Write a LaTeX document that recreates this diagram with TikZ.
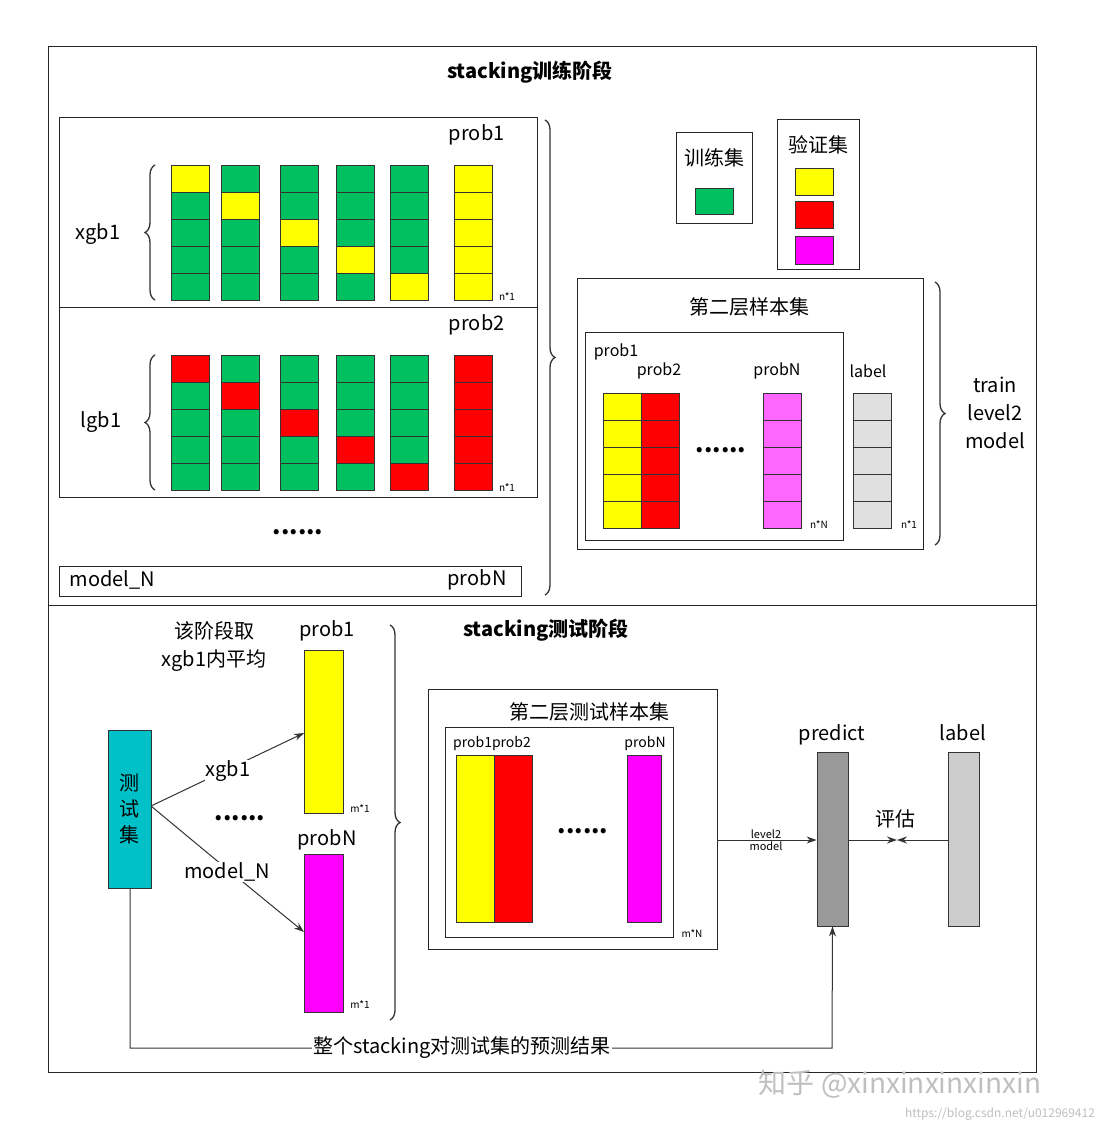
\documentclass[tikz,border=0pt]{standalone}
\usepackage{fontspec}
\setmainfont{Noto Sans CJK SC}
\usetikzlibrary{decorations.pathreplacing,arrows.meta}
\definecolor{gr}{HTML}{00C060}
\definecolor{ye}{HTML}{FFFF00}
\definecolor{rd}{HTML}{FF0000}
\definecolor{mg}{HTML}{FF00FF}
\definecolor{lm}{HTML}{FF66FF}
\definecolor{lg}{HTML}{E0E0E0}
\definecolor{cy}{HTML}{00C0C8}
\tikzset{
 box/.style={draw=black!85,line width=1pt},
 cell/.style={draw=black!80,line width=0.8pt},
 br/.style={decorate,decoration={brace,amplitude=10pt},line width=1.3pt,draw=black!80},
 t/.style={font=\fontsize{20}{22}\selectfont},
 s/.style={font=\fontsize{10}{11}\selectfont},
 dd/.style={font=\fontsize{24}{24}\selectfont\bfseries},
 arr/.style={-{Stealth[length=10pt,width=7pt]},line width=1pt,draw=black!80}
}
\newcommand{\colm}[5]{% x, ytop, nrows, fill, special row
 \foreach \r in {1,...,#3}{
  \pgfmathsetmacro{\yy}{#2+(\r-1)*27}
  \ifnum\r=#5 \def\ff{#4}\else\def\ff{gr}\fi
  \draw[cell,fill=\ff] (#1,\yy) rectangle ++(38,27);}}
\newcommand{\colf}[4]{% x, ytop, nrows, fill
 \foreach \r in {1,...,#3}{
  \pgfmathsetmacro{\yy}{#2+(\r-1)*27}
  \draw[cell,fill=#4] (#1,\yy) rectangle ++(38,27);}}
\begin{document}
\begin{tikzpicture}[x=1pt,y=-1pt]
\useasboundingbox (0,0) rectangle (1098,1134);
\fill[white] (0,0) rectangle (1098,1134);
\draw[box] (48,47) rectangle (1036,1072);
\draw[box] (48,605) -- (1036,605);
\node[t,font=\fontsize{20}{22}\selectfont\bfseries] (t1) at (530,72) {stacking训练阶段};
\draw[box] (59,118) rectangle (537,307);
\draw[box] (59,307) rectangle (537,497);
\draw[box] (59,566) rectangle (521,596);
\node[t,anchor=east] (p1) at (508,135) {prob1};
\node[t,anchor=east] (p2) at (508,325) {prob2};
\node[t,anchor=west] (mn) at (66,580) {model\_N};
\node[t,anchor=east] (pn) at (510,580) {probN};
\node[dd] (dots1) at (298,532) {......};
\foreach \x/\k in {171/1,221/2,280/3,336/4,390/5}{\colm{\x}{165}{5}{ye}{\k}\colm{\x}{355}{5}{rd}{\k}}
\colf{454}{165}{5}{ye}\colf{454}{355}{5}{rd}
\node[s] (n1) at (507,297) {n*1};
\node[s] (n2) at (507,488) {n*1};
\draw[br] (155,300) -- (155,165);
\draw[br] (155,490) -- (155,355);
\node[t] (xgb) at (98,234) {xgb1};
\node[t] (lgb) at (101,422) {lgb1};
\draw[br] (545,120) -- (545,595);
\draw[box] (676,133) rectangle (752,223);
\node[t] (trs) at (714,158) {训练集};
\draw[cell,fill=gr] (695,188) rectangle (733,214);
\draw[box] (777,120) rectangle (859,269);
\node[t] (vs) at (818,145) {验证集};
\draw[cell,fill=ye] (795,168) rectangle (833,195);
\draw[cell,fill=rd] (795,201) rectangle (833,228);
\draw[cell,fill=mg] (795,236) rectangle (833,264);
\draw[box] (577,278) rectangle (923,549);
\node[t] (l2) at (749,307) {第二层样本集};
\draw[box] (585,332) rectangle (843,540);
\node[font=\fontsize{16}{18}\selectfont] (q1) at (616,352) {prob1};
\node[font=\fontsize{16}{18}\selectfont] (q2) at (659,371) {prob2};
\node[font=\fontsize{16}{18}\selectfont] (qn) at (777,371) {probN};
\node[font=\fontsize{16}{18}\selectfont] (ql) at (868,371) {label};
\colf{603}{393}{5}{ye}\colf{641}{393}{5}{rd}\colf{763}{393}{5}{lm}\colf{853}{393}{5}{lg}
\node[dd] (dots2) at (721,450) {......};
\node[s] (nN) at (819,525) {n*N};
\node[s] (n3) at (909,525) {n*1};
\draw[br] (935,282) -- (935,545);
\node[t,align=center,font=\fontsize{20}{28}\selectfont] (tl) at (995,413) {train\\level2\\model};
\node[t,font=\fontsize{20}{22}\selectfont\bfseries] (t2) at (546,630) {stacking测试阶段};
\node[t,align=center,font=\fontsize{20}{28}\selectfont] (note) at (214,647) {该阶段取\\xgb1内平均};
\node[t] (tp1) at (327,631) {prob1};
\draw[cell,fill=ye] (304,650) rectangle (343,813);
\node[s] (m1) at (360,809) {m*1};
\node[t] (tpn) at (327,840) {probN};
\draw[cell,fill=mg] (304,854) rectangle (343,1012);
\node[s] (m2) at (360,1005) {m*1};
\draw[cell,fill=cy] (108,730) rectangle (151,888);
\node[t,align=center,font=\fontsize{20}{26}\selectfont] (ts) at (129.5,809) {测\\试\\集};
\coordinate (tsr) at (151,806);
\coordinate (mnst) at (210,855);
\coordinate (a1) at (304,733);
\coordinate (a2) at (304,932);
\draw[arr] (tsr) -- (a1);
\draw[line width=1pt,draw=black!80] (tsr) -- (mnst);
\draw[arr] (mnst) -- (a2);
\node[t,fill=white,inner sep=1pt] (lx) at (228,771) {xgb1};
\node[t,fill=white,inner sep=1pt] (lm) at (227,872) {model\_N};
\node[dd] (dots3) at (240,818) {......};
\draw[br] (390,625) -- (390,1020);
\draw[box] (428,689) rectangle (717,949);
\node[t] (l2t) at (589,712) {第二层测试样本集};
\draw[box] (445,727) rectangle (673,937);
\node[font=\fontsize{14}{16}\selectfont] (r12) at (492,744) {prob1prob2};
\node[font=\fontsize{14}{16}\selectfont] (rn) at (645,744) {probN};
\draw[cell,fill=ye] (456,755) rectangle (494,922);
\draw[cell,fill=rd] (494,755) rectangle (532,922);
\draw[cell,fill=mg] (627,755) rectangle (661,922);
\node[dd] (dots4) at (583,831) {......};
\node[s] (mN) at (692,934) {m*N};
\node[draw=black!80,line width=0.8pt,fill=black!40,minimum width=31pt,minimum height=174pt,inner sep=0] (pred) at (832.5,839) {};
\node[draw=black!80,line width=0.8pt,fill=black!20,minimum width=31pt,minimum height=174pt,inner sep=0] (lab) at (963.5,839) {};
\node[t] (predt) at (832,735) {predict};
\node[t] (labt) at (963,733) {label};
\coordinate (l2o) at (717,840);
\draw[arr] (l2o) -- (pred.west |- l2o);
\node[s,align=center,font=\fontsize{11}{12}\selectfont] (lvm) at (766,840) {level2\\model};
\coordinate (mid) at (897,840);
\draw[arr] (pred.east |- mid) -- (mid);
\draw[arr] (lab.west |- mid) -- (mid);
\node[t] (ev) at (895,819) {评估};
\coordinate (b0) at (130,888);
\coordinate (b1) at (130,1048);
\coordinate (b2) at (832,1048);
\draw[arr] (b0) -- (b1) -- (b2) -- (pred.south);
\node[t,fill=white,inner sep=1pt] (bt) at (462,1048) {整个stacking对测试集的预测结果};
\node[font=\fontsize{28}{30}\selectfont,text=black!25] (wm) at (900,1084) {知乎 @xinxinxinxinxin};
\node[font=\fontsize{12}{13}\selectfont,text=black!25] (url) at (1000,1114) {https://blog.csdn.net/u012969412};
\end{tikzpicture}
\end{document}
